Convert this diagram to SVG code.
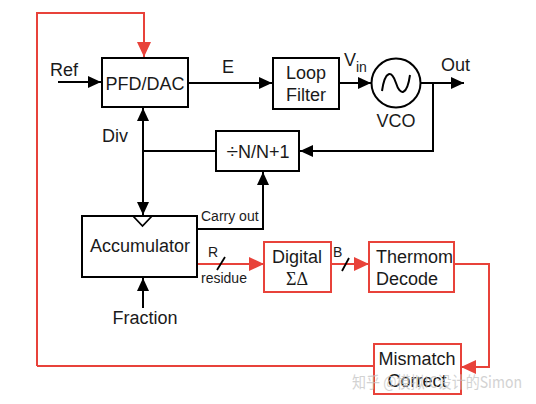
<svg xmlns="http://www.w3.org/2000/svg" width="536" height="404" viewBox="0 0 536 404">
<defs>
<marker id="ab" markerUnits="userSpaceOnUse" markerWidth="14" markerHeight="12" refX="13" refY="6" orient="auto-start-reverse"><path d="M0,0 L13,6 L0,12 z" fill="#000"/></marker>
<marker id="ar" markerUnits="userSpaceOnUse" markerWidth="16" markerHeight="14" refX="15" refY="7" orient="auto"><path d="M0,0 L15,7 L0,14 z" fill="#e8423a"/></marker>
</defs>
<style>
text{font-family:"Liberation Sans",Arial,sans-serif;fill:#1a1a1a}
.big{font-size:18px}
.sm{font-size:14px}
.bx{fill:#fff;stroke:#000;stroke-width:2}
.rbx{fill:#fff;stroke:#e8423a;stroke-width:2}
.ln{fill:none;stroke:#000;stroke-width:2}
.rl{fill:none;stroke:#e8423a;stroke-width:2}
</style>
<rect width="536" height="404" fill="#fff"/>
<g id="connectors">
<path class="rl" d="M37,366 L37,13 L144,13 L144,57" marker-end="url(#ar)"/>
<path class="ln" d="M58,82 L101,82" marker-end="url(#ab)"/>
<path class="ln" d="M188,83 L272,83" marker-end="url(#ab)"/>
<path class="ln" d="M339,83 L371,83" marker-end="url(#ab)"/>
<path class="ln" d="M421,83 L464,83" marker-end="url(#ab)"/>
<path class="ln" d="M433,83 L433,151 L300,151" marker-end="url(#ab)"/>
<path class="ln" d="M216,151 L143,151"/>
<path class="ln" d="M143,108 L143,215" marker-start="url(#ab)" marker-end="url(#ab)"/>
<path class="ln" d="M197,229 L263,229 L263,172" marker-end="url(#ab)"/>
<path class="ln" d="M143,308 L143,278" marker-end="url(#ab)"/>
<path class="rl" d="M197,264 L264,264" marker-end="url(#ar)"/>
<path class="rl" d="M331,264 L369,264" marker-end="url(#ar)"/>
<path class="rl" d="M454,264 L489,264 L489,367 L461,367" marker-end="url(#ar)"/>
<path class="rl" d="M37,366 L374,366"/>
<line x1="217" y1="270" x2="225" y2="257" stroke="#000" stroke-width="1.8"/>
<line x1="342" y1="271" x2="349" y2="258" stroke="#000" stroke-width="1.8"/>
<text class="big" x="50" y="76">Ref</text>
<text class="big" x="222" y="73">E</text>
<text class="big" x="344" y="66">V</text>
<text class="sm" x="356" y="72">in</text>
<text class="big" x="441" y="71">Out</text>
<text class="big" x="102" y="142">Div</text>
<text class="sm" x="201" y="221">Carry out</text>
<text class="sm" x="208" y="257">R</text>
<text class="sm" x="201" y="283">residue</text>
<text class="sm" x="333" y="257">B</text>
<text class="big" x="145" y="324" text-anchor="middle">Fraction</text>
</g>
<g id="pfd">
<rect class="bx" x="102" y="58" width="86" height="49"/>
<text class="big" x="145" y="90" text-anchor="middle">PFD/DAC</text>
</g>
<g id="loopfilter">
<rect class="bx" x="273" y="58" width="66" height="51"/>
<text class="big" x="306" y="79" text-anchor="middle">Loop</text>
<text class="big" x="306" y="101" text-anchor="middle">Filter</text>
</g>
<g id="vco">
<circle cx="396" cy="83" r="24.5" fill="#fff" stroke="#000" stroke-width="2"/>
<path d="M382,91 C385,70 392,70 396,83 C400,96 407,96 410,75" fill="none" stroke="#000" stroke-width="2"/>
<text class="big" x="396" y="127" text-anchor="middle">VCO</text>
</g>
<g id="divider">
<rect class="bx" x="216" y="131" width="83" height="40"/>
<text class="big" x="258" y="158" text-anchor="middle"><tspan font-size="21">÷</tspan>N/N+1</text>
</g>
<g id="accumulator">
<rect class="bx" x="82" y="216" width="115" height="61"/>
<polygon points="133,216 152,216 142.5,226" fill="#fff" stroke="#000" stroke-width="1.8"/>
<text class="big" x="140" y="252" text-anchor="middle">Accumulator</text>
</g>
<g id="sigmadelta">
<rect class="rbx" x="264" y="242" width="67" height="50"/>
<text class="big" x="297" y="263" text-anchor="middle">Digital</text>
<text class="big" x="297" y="285" text-anchor="middle" style="font-family:'Liberation Serif',serif">ΣΔ</text>
</g>
<g id="thermom">
<rect class="rbx" x="369" y="242" width="85" height="50"/>
<text class="big" x="376" y="263">Thermom</text>
<text class="big" x="376" y="285">Decode</text>
</g>
<g id="mismatch">
<rect class="rbx" x="374" y="344" width="87" height="50"/>
<text class="big" x="417" y="365" text-anchor="middle">Mismatch</text>
<text class="big" x="417" y="387" text-anchor="middle">Correct</text>
</g>
<text x="352" y="388" textLength="170" lengthAdjust="spacingAndGlyphs" style="font-family:'Noto Sans CJK SC','Liberation Sans',sans-serif;font-size:16px;fill:#c4c4c4;opacity:0.75">知乎 @模拟IC设计的Simon</text>
</svg>
